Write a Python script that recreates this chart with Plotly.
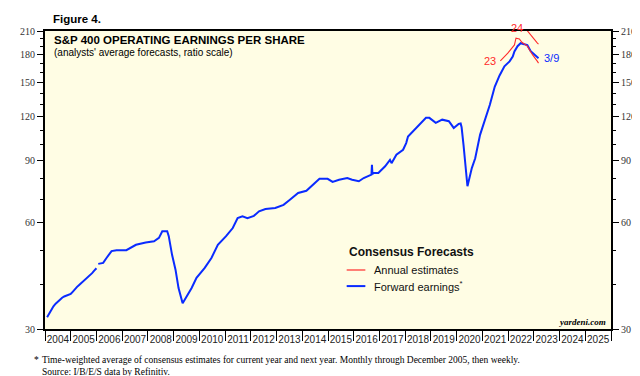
import math
import plotly.graph_objects as go

# ---------------- data ----------------
monthly_dates = [
    "2004-01-31", "2004-02-29", "2004-03-31", "2004-04-30", "2004-05-31", "2004-06-30",
    "2004-07-31", "2004-08-31", "2004-09-30", "2004-10-31", "2004-11-30", "2004-12-31",
    "2005-01-31", "2005-02-28", "2005-03-31", "2005-04-30", "2005-05-31", "2005-06-30",
    "2005-07-31", "2005-08-31", "2005-09-30", "2005-10-31", "2005-11-30", "2005-12-31",
]
monthly_values = [
    32.4, 33.2, 34.0, 34.8, 35.4, 35.9, 36.4, 36.8, 37.1, 37.3, 37.5, 37.7,
    38.3, 39.0, 39.5, 40.0, 40.5, 41.1, 41.5, 42.0, 42.6, 43.2, 43.9, 44.6,
]

weekly_dates = [
    "2006-01-26", "2006-04-06", "2006-05-23", "2006-08-03", "2006-10-12", "2007-03-01",
    "2007-07-16", "2007-12-01", "2008-03-28", "2008-06-06", "2008-07-23", "2008-10-01",
    "2008-10-23", "2008-12-09", "2009-01-27", "2009-03-11", "2009-05-08", "2009-07-06",
    "2009-09-13", "2009-11-21", "2010-03-18", "2010-06-21", "2010-09-20", "2011-01-15",
    "2011-04-20", "2011-06-28", "2011-09-05", "2011-11-14", "2012-02-14", "2012-04-27",
    "2012-07-27", "2012-12-13", "2013-04-10", "2013-07-09", "2013-11-03", "2014-02-28",
    "2014-06-03", "2014-09-02", "2014-12-27", "2015-03-07", "2015-06-07", "2015-10-01",
    "2015-12-10", "2016-03-14", "2016-05-22", "2016-08-22", "2016-09-09", "2016-09-16",
    "2016-09-23", "2016-10-08", "2016-12-16", "2017-03-22", "2017-05-30", "2017-06-21",
    "2017-08-29", "2017-12-02", "2018-01-15", "2018-02-10", "2018-05-12", "2018-08-15",
    "2018-10-23", "2018-12-10", "2019-03-11", "2019-06-10", "2019-09-13", "2019-11-21",
    "2020-01-30", "2020-02-27", "2020-03-12", "2020-04-08", "2020-05-05", "2020-06-03",
    "2020-08-04", "2020-09-21", "2020-11-29", "2021-01-15", "2021-04-17", "2021-06-25",
    "2021-09-02", "2021-11-10", "2022-01-22", "2022-03-08", "2022-04-01", "2022-05-15",
    "2022-06-28", "2022-08-18", "2022-10-01", "2022-11-18", "2023-01-05", "2023-03-09",
]
weekly_values = [
    45.9, 46.2, 47.7, 49.9, 50.2, 50.2,
    52.0, 52.8, 53.2, 54.4, 56.8, 56.8,
    55.0, 48.7, 44.2, 39.2, 35.5, 37.1,
    39.2, 41.9, 44.7, 47.7, 52.0, 55.0,
    58.0, 61.9, 62.6, 61.9, 62.8, 64.7,
    65.7, 66.1, 67.5, 69.8, 72.9, 74.0,
    77.0, 80.0, 80.0, 78.4, 79.5, 80.4,
    79.5, 78.7, 80.4, 82.1, 82.2, 87.7,
    82.5, 83.1, 83.1, 86.8, 90.5, 88.6,
    93.6, 96.7, 101.0, 105.4, 110.3, 115.3,
    119.1, 119.1, 115.3, 117.7, 116.5, 111.5,
    114.5, 114.8, 112.0, 99.9, 85.8, 76.2,
    85.8, 91.5, 106.6, 113.9, 129.7, 145.9,
    157.1, 166.7, 172.2, 177.8, 183.7, 190.2,
    193.9, 192.7, 191.4, 184.1, 180.5, 175.7,
]

est23_dates = ["2021-09-13", "2021-12-28", "2022-04-01", "2022-04-23", "2022-06-10",
               "2022-07-16", "2022-10-01", "2022-12-13", "2023-02-21", "2023-03-09"]
est23_values = [172.8, 181.7, 191.8, 200.3, 199.4, 195.1, 190.2, 179.9, 172.2, 170.3]

est24_dates = ["2022-09-09", "2022-10-27", "2022-12-13", "2023-02-21", "2023-03-09"]
est24_values = [213.0, 207.2, 200.3, 193.9, 192.7]

y_tick_values = [30, 60, 90, 120, 150, 180, 210]
y_minor_values = [40, 50, 70, 80, 100, 110, 130, 140, 160, 170, 190, 200]

BLUE = "#0A2BFF"
RED = "#FF2B2B"
X_RANGE = ["2004-01-01", "2026-01-01"]

# ---------------- figure ----------------
fig = go.Figure()

fig.add_trace(go.Scatter(
    x=monthly_dates + [None] + weekly_dates,
    y=monthly_values + [None] + weekly_values,
    mode="lines", line=dict(color=BLUE, width=2),
    name="Forward earnings*", connectgaps=False, showlegend=False,
    hoverinfo="skip",
))
fig.add_trace(go.Scatter(
    x=est23_dates, y=est23_values, mode="lines", line=dict(color=RED, width=1.1),
    name="Annual estimates", showlegend=False, xaxis="x2", yaxis="y2",
    hoverinfo="skip",
))
fig.add_trace(go.Scatter(
    x=est24_dates, y=est24_values, mode="lines", line=dict(color=RED, width=1.1),
    name="Annual estimates", showlegend=False, xaxis="x2", yaxis="y2",
    hoverinfo="skip",
))

yrange = [math.log10(30), math.log10(210)]
yaxis_common = dict(
    type="log", range=yrange, tickvals=y_tick_values,
    ticktext=[str(v) for v in y_tick_values],
    ticks="outside", ticklen=6, tickwidth=1, tickcolor="black",
    showgrid=False, zeroline=False,
    tickfont=dict(family="Liberation Serif", size=10, color="#333"),
    minor=dict(tickvals=y_minor_values, ticks="outside", ticklen=3, tickwidth=1,
               tickcolor="black", showgrid=False),
)

fig.update_layout(
    width=640, height=376,
    margin=dict(l=34, r=30, t=23, b=55),
    paper_bgcolor="white", plot_bgcolor="#FFFDE4",
    showlegend=False,
    xaxis=dict(
        type="date", range=X_RANGE,
        tick0="2004-01-01", dtick="M12", tickformat="%Y", ticklabelmode="period",
        ticks="", showline=True, linecolor="black", linewidth=2, mirror=True,
        showgrid=False, zeroline=False,
        tickfont=dict(family="Liberation Sans", size=10, color="#222"),
    ),
    xaxis2=dict(
        type="date", range=X_RANGE, overlaying="x", side="bottom",
        tick0="2004-01-01", dtick="M12", showticklabels=False,
        ticks="outside", ticklen=11, tickwidth=1.2, tickcolor="black",
        showline=False, showgrid=False, zeroline=False,
    ),
    yaxis=dict(showline=True, linecolor="black", linewidth=2, mirror=True, **yaxis_common),
    yaxis2=dict(overlaying="y", side="right", showline=True, linecolor="black",
                linewidth=2, **yaxis_common),
)

ann = []
ann.append(dict(text="<b>Figure 4.</b>", xref="paper", yref="paper",
                x=0.0104, y=1.066, xanchor="left", yanchor="top", showarrow=False,
                font=dict(family="Liberation Sans Narrow, Liberation Sans", size=11.5, color="black")))
ann.append(dict(text="<b>S&P 400 OPERATING EARNINGS PER SHARE</b>", xref="paper", yref="paper",
                x=0.0115, y=0.995, xanchor="left", yanchor="top", showarrow=False,
                font=dict(family="Liberation Sans", size=11.5, color="black")))
ann.append(dict(text="(analysts' average forecasts, ratio scale)", xref="paper", yref="paper",
                x=0.0115, y=0.953, xanchor="left", yanchor="top", showarrow=False,
                font=dict(family="Liberation Sans", size=10, color="black")))
ann.append(dict(text="<b><i>yardeni.com</i></b>", xref="paper", yref="paper",
                x=0.995, y=0.0, xanchor="right", yanchor="bottom", showarrow=False,
                font=dict(family="Liberation Serif", size=9, color="black")))
ann.append(dict(text="*", xref="paper", yref="paper",
                x=-0.0226, y=-0.08, xanchor="left", yanchor="top", showarrow=False,
                font=dict(family="Liberation Serif", size=9.5, color="black")))
ann.append(dict(text="Time-weighted average of consensus estimates for current year and next year. "
                     "Monthly through December 2005, then weekly.<br>Source: I/B/E/S data by Refinitiv.",
                xref="paper", yref="paper", align="left",
                x=-0.0087, y=-0.08, xanchor="left", yanchor="top", showarrow=False,
                font=dict(family="Liberation Serif", size=9.5, color="black")))
# series labels
ann.append(dict(text="23", x=est23_dates[0], y=math.log10(est23_values[0]), xref="x2", yref="y2",
                xanchor="right", yanchor="middle", xshift=-2, showarrow=False,
                font=dict(family="Liberation Sans", size=11, color=RED)))
ann.append(dict(text="24", x=est24_dates[0], y=min(math.log10(est24_values[0]), yrange[1]),
                xref="x2", yref="y2",
                xanchor="right", yanchor="middle", xshift=-1, yshift=3, showarrow=False,
                font=dict(family="Liberation Sans", size=11, color=RED)))
ann.append(dict(text="3/9", x=weekly_dates[-1], y=math.log10(weekly_values[-1]), xref="x", yref="y",
                xanchor="left", yanchor="middle", xshift=3, showarrow=False,
                font=dict(family="Liberation Sans", size=11, color=BLUE)))

# legend (drawn as text + swatches)
ann.append(dict(text="<b>Consensus Forecasts</b>", xref="paper", yref="paper",
                x=0.533, y=0.258, xanchor="left", yanchor="middle", showarrow=False,
                font=dict(family="Liberation Sans", size=12, color="#111")))
ann.append(dict(text="Annual estimates", xref="paper", yref="paper",
                x=0.578, y=0.198, xanchor="left", yanchor="middle", showarrow=False,
                font=dict(family="Liberation Sans", size=11, color="#111")))
ann.append(dict(text="Forward earnings<sup>*</sup>", xref="paper", yref="paper",
                x=0.578, y=0.144, xanchor="left", yanchor="middle", showarrow=False,
                font=dict(family="Liberation Sans", size=11, color="#111")))
fig.update_layout(annotations=ann)
fig.update_layout(shapes=[
    dict(type="line", xref="paper", yref="paper", x0=0.533, x1=0.566, y0=0.198, y1=0.198,
         line=dict(color=RED, width=1.2)),
    dict(type="line", xref="paper", yref="paper", x0=0.533, x1=0.566, y0=0.144, y1=0.144,
         line=dict(color=BLUE, width=2)),
])

fig.write_html("out.html")
